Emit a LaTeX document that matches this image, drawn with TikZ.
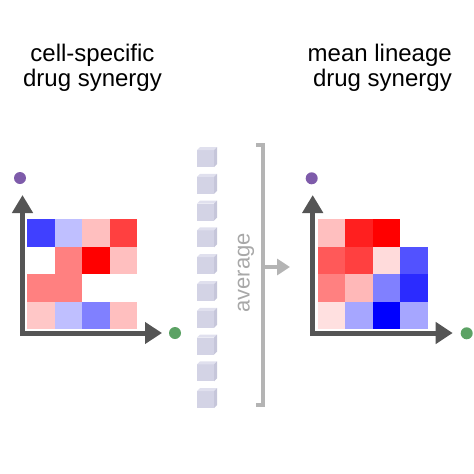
\documentclass[tikz,border=0pt]{standalone}
\usepackage{fontspec}
\setmainfont{Liberation Sans}
\usetikzlibrary{arrows.meta,positioning}
\definecolor{axisgray}{HTML}{555555}
\definecolor{bracketgray}{HTML}{B4B4B4}
\definecolor{textgray}{HTML}{A8A8A8}
\definecolor{dotpurple}{HTML}{7E5BAA}
\definecolor{dotgreen}{HTML}{5BA264}
\definecolor{cubefront}{HTML}{D3D3E5}
\definecolor{cubetop}{HTML}{E0E0EE}
\definecolor{cubeside}{HTML}{C6C6DA}

\begin{document}
\begin{tikzpicture}[
    x=1pt, y=-1pt,
    titletext/.style={font=\fontsize{24}{24.3}\selectfont, inner sep=0pt},
    axisline/.style={draw=axisgray, line width=5pt, line join=miter, {Triangle[width=20pt,length=18pt]}-{Triangle[width=21pt,length=17pt]}},
    axisdot/.style={circle, fill=#1, minimum size=12pt, inner sep=0pt},
    bracket/.style={draw=bracketgray, line width=4pt},
    arrow/.style={-{Triangle[width=16pt,length=13pt]}, draw=bracketgray, line width=4pt}
]
\useasboundingbox (0,0) rectangle (474,474);

% titles
\node[titletext, align=center, anchor=base] (celltitle) at (92.5,86) {cell-specific\\drug synergy};
\node[titletext, align=right, anchor=base east] (meantitle) at (452,86) {mean lineage\\drug synergy};

% cell-specific heat map
\foreach \row/\clrs in {0/{blue!75,blue!25,red!25,red!75},
                        1/{white,red!50,red,red!25},
                        2/{red!50,red!50,white,white},
                        3/{red!22,blue!25,blue!50,red!25}}
  \foreach \clr [count=\col from 0] in \clrs
    \fill[\clr] ({27+27.5*\col},{219+27.5*\row}) rectangle +(27.5,27.5);

\coordinate (ltop) at (22.5,195);
\coordinate (lorig) at (22.5,333);
\coordinate (lright) at (162,333);
\draw[axisline] (ltop) -- (lorig) -- (lright);
\node[axisdot=dotpurple] (lpurple) at (20,178) {};
\node[axisdot=dotgreen] (lgreen) at (175,333) {};

% cell lines
\foreach \k in {0,...,9} {
  \begin{scope}[shift={(197,{147+26.8*\k})}]
    \fill[cubefront] (0,3) rectangle (17,20);
    \fill[cubetop] (0,3) -- (3,0) -- (20,0) -- (17,3) -- cycle;
    \fill[cubeside] (17,3) -- (20,0) -- (20,17) -- (17,20) -- cycle;
  \end{scope}
}

% average bracket
\coordinate (btop) at (256,145);
\coordinate (bbot) at (256,405);
\coordinate (bmid) at (262.5,267);
\coordinate (avgtip) at (290,267);
\draw[bracket] (btop) -- ++(6.5,0) |- (bbot);
\draw[arrow] (bmid) -- (avgtip);
\node[rotate=90, text=textgray, font=\fontsize{22}{22}\selectfont, inner sep=0pt] (avg) at (246,273) {average};

% mean lineage heat map
\foreach \row/\clrs in {0/{red!25,red!88,red,white},
                        1/{red!65,red!75,red!14,blue!68},
                        2/{red!50,red!28,blue!50,blue!83},
                        3/{red!12,blue!35,blue,blue!35}}
  \foreach \clr [count=\col from 0] in \clrs
    \fill[\clr] ({317.5+27.5*\col},{219+27.5*\row}) rectangle +(27.5,27.5);

\coordinate (rtop) at (312.7,195);
\coordinate (rorig) at (312.7,333);
\coordinate (rright) at (452.7,333);
\draw[axisline] (rtop) -- (rorig) -- (rright);
\node[axisdot=dotpurple] (rpurple) at (311.7,178.3) {};
\node[axisdot=dotgreen] (rgreen) at (466.7,333.3) {};

\end{tikzpicture}
\end{document}
